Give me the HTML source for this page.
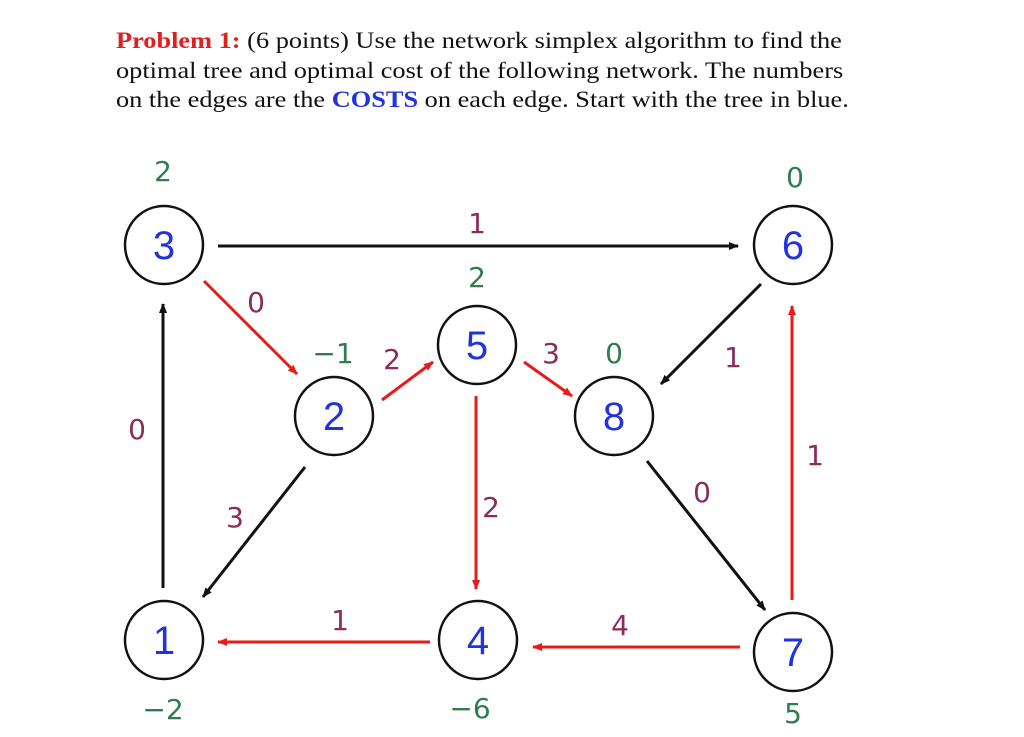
<!DOCTYPE html>
<html><head><style>
body{margin:0;width:1024px;height:737px;background:#fff;overflow:hidden}
.t{position:absolute;left:116px;top:26px;font-family:"Liberation Serif",serif;font-size:23px;line-height:29.5px;color:#111;white-space:nowrap;transform:scaleX(1.145);transform-origin:0 0}
</style></head><body>
<div class="t"><b style="color:#e02020">Problem 1:</b> (6 points) Use the network simplex algorithm to find the<br>optimal tree and optimal cost of the following network. The numbers<br>on the edges are the <b style="color:#2233dd">COSTS</b> on each edge. Start with the tree in blue.</div>
<svg width="1024" height="737" style="position:absolute;left:0;top:0">
<defs>
<marker id="ak" markerWidth="10" markerHeight="8" refX="9" refY="4" orient="auto" markerUnits="userSpaceOnUse"><path d="M0,0L10,4L0,8z" fill="#111"/></marker>
<marker id="ar" markerWidth="10" markerHeight="8" refX="9" refY="4" orient="auto" markerUnits="userSpaceOnUse"><path d="M0,0L10,4L0,8z" fill="#e81a1a"/></marker>
</defs>
<g stroke-width="3" fill="none">
<line x1="218" y1="246" x2="738" y2="246" stroke="#111" marker-end="url(#ak)"/>
<line x1="204" y1="281" x2="297" y2="374" stroke="#e81a1a" marker-end="url(#ar)"/>
<line x1="382" y1="400" x2="433" y2="362" stroke="#e81a1a" marker-end="url(#ar)"/>
<line x1="524" y1="362" x2="572" y2="396" stroke="#e81a1a" marker-end="url(#ar)"/>
<line x1="761" y1="284" x2="661" y2="384" stroke="#111" marker-end="url(#ak)"/>
<line x1="476" y1="396" x2="476" y2="589" stroke="#e81a1a" marker-end="url(#ar)"/>
<line x1="305" y1="467" x2="203" y2="597" stroke="#111" marker-end="url(#ak)"/>
<line x1="647" y1="461" x2="765" y2="610" stroke="#111" marker-end="url(#ak)"/>
<line x1="792" y1="600" x2="792" y2="306" stroke="#e81a1a" marker-end="url(#ar)"/>
<line x1="163" y1="588" x2="163" y2="304" stroke="#111" marker-end="url(#ak)"/>
<line x1="430" y1="642" x2="218" y2="642" stroke="#e81a1a" marker-end="url(#ar)"/>
<line x1="740" y1="647" x2="533" y2="647" stroke="#e81a1a" marker-end="url(#ar)"/>
</g>
<g stroke="#111" stroke-width="2.5" fill="#fff">
<circle cx="164" cy="245" r="39"/><circle cx="793" cy="245" r="39"/>
<circle cx="477" cy="345" r="39"/><circle cx="334" cy="416" r="39"/>
<circle cx="614" cy="416" r="39"/><circle cx="164" cy="640" r="39"/>
<circle cx="478" cy="640" r="39"/><circle cx="793" cy="652" r="39"/>
</g>
<g font-family="Liberation Sans, DejaVu Sans, sans-serif" font-size="40" fill="#2233dd" text-anchor="middle">
<text x="164" y="259">3</text><text x="793" y="259">6</text><text x="477" y="359">5</text>
<text x="334" y="430">2</text><text x="614" y="430">8</text><text x="164" y="654">1</text>
<text x="478" y="654">4</text><text x="793" y="666">7</text>
</g>
<g font-family="DejaVu Sans, Liberation Sans, sans-serif" font-size="28" fill="#2e7d4f" text-anchor="middle">
<text x="163" y="181">2</text><text x="795" y="187">0</text><text x="477" y="287">2</text>
<text x="333" y="363">−1</text><text x="614" y="363">0</text><text x="163" y="719">−2</text>
<text x="470" y="718">−6</text><text x="793" y="723">5</text>
</g>
<g font-family="DejaVu Sans, Liberation Sans, sans-serif" font-size="28" fill="#8b2c5c" text-anchor="middle">
<text x="477" y="233">1</text><text x="256" y="312">0</text><text x="392" y="369">2</text>
<text x="551" y="363">3</text><text x="733" y="367">1</text><text x="137" y="439">0</text>
<text x="815" y="465">1</text><text x="702" y="502">0</text><text x="235" y="527">3</text>
<text x="491" y="517">2</text><text x="340" y="630">1</text><text x="620" y="635">4</text>
</g>
</svg>
</body></html>
